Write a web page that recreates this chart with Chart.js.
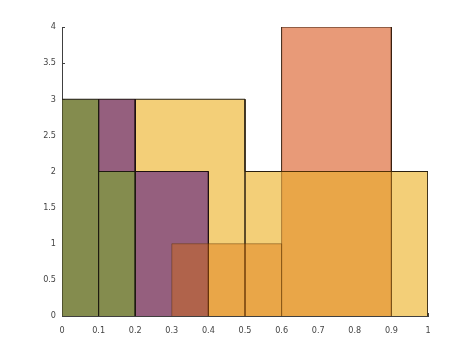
<!DOCTYPE html>
<html>
<head>
<meta charset="utf-8">
<script src="https://cdn.jsdelivr.net/npm/chart.js@4/dist/chart.umd.min.js"></script>
<style>
html,body{margin:0;padding:0;background:#fff;}
#wrap{width:474px;height:355px;}
</style>
</head>
<body>
<div id="wrap"><canvas id="c" width="474" height="355"></canvas></div>
<script>
// Bin edges and heights for each series
const greenEdges = [0, 0.1, 0.2];
const greenHeights = [3, 2];
const purpleEdges = [0.1, 0.2, 0.4];
const purpleHeights = [3, 2];
const orangeEdges = [0.3, 0.6, 0.9];
const orangeHeights = [1, 2];
const yellowEdges = [0.2, 0.5, 1.0];
const yellowHeights = [3, 2];
const salmonEdges = [0.6, 0.9];
const salmonHeights = [4];

const xTicks = [0, 0.1, 0.2, 0.3, 0.4, 0.5, 0.6, 0.7, 0.8, 0.9, 1];
const yTicks = [0, 0.5, 1, 1.5, 2, 2.5, 3, 3.5, 4];

function outline(edges, heights) {
  const pts = [];
  for (let i = 0; i < heights.length; i++) {
    pts.push({x: edges[i], y: 0});
    pts.push({x: edges[i], y: heights[i]});
    pts.push({x: edges[i + 1], y: heights[i]});
    pts.push({x: edges[i + 1], y: 0});
  }
  return pts;
}

function ds(edges, heights, fill, border, order) {
  return {
    data: outline(edges, heights),
    backgroundColor: fill,
    borderColor: border,
    borderWidth: 1,
    pointRadius: 0,
    tension: 0,
    fill: 'origin',
    order: order
  };
}

const inwardTicks = {
  id: 'inwardTicks',
  beforeDatasetsDraw(chart) {
    const ctx = chart.ctx;
    const xs = chart.scales.x, ys = chart.scales.y;
    const a = chart.chartArea;
    ctx.save();
    ctx.strokeStyle = '#404040';
    ctx.lineWidth = 1;
    ctx.beginPath();
    xTicks.forEach(v => {
      const px = Math.round(xs.getPixelForValue(v)) + 0.5;
      ctx.moveTo(px, a.bottom);
      ctx.lineTo(px, a.bottom - 3);
    });
    yTicks.forEach(v => {
      const py = Math.round(ys.getPixelForValue(v)) + 0.5;
      ctx.moveTo(a.left, py);
      ctx.lineTo(a.left + 3, py);
    });
    ctx.stroke();
    ctx.restore();
  }
};

const tickFont = {family: '"Liberation Sans Narrow","DejaVu Sans Condensed",sans-serif', size: 9};

new Chart(document.getElementById('c'), {
  type: 'line',
  data: {
    datasets: [
      ds(greenEdges, greenHeights, '#848C4E', '#1e1a10', 0),
      ds(orangeEdges, orangeHeights, 'rgba(218,104,0,0.4)', 'rgba(90,50,0,0.45)', 1),
      ds(purpleEdges, purpleHeights, '#955F7E', '#1e1010', 2),
      ds(yellowEdges, yellowHeights, '#F3CF78', '#2a2010', 3),
      ds(salmonEdges, salmonHeights, '#E89A78', '#3a2010', 4)
    ]
  },
  options: {
    responsive: false,
    animation: false,
    layout: {padding: {left: 0, top: 27, right: 46, bottom: 0}},
    plugins: {legend: {display: false}, tooltip: {enabled: false}},
    scales: {
      x: {
        type: 'linear', min: 0, max: 1,
        afterFit(s) { s.height = 39; },
        afterBuildTicks(s) { s.ticks = xTicks.map(v => ({value: v})); },
        grid: {display: true, drawOnChartArea: false, drawTicks: false},
        border: {display: true, color: '#404040', width: 1},
        ticks: {padding: 9, color: '#444', font: tickFont, maxRotation: 0, autoSkip: false,
                callback: v => String(v)}
      },
      y: {
        type: 'linear', min: 0, max: 4,
        afterFit(s) { s.width = 62; },
        afterBuildTicks(s) { s.ticks = yTicks.map(v => ({value: v})); },
        grid: {display: true, drawOnChartArea: false, drawTicks: false},
        border: {display: true, color: '#404040', width: 1},
        ticks: {padding: 6, color: '#444', font: tickFont, autoSkip: false,
                callback: v => String(v)}
      }
    }
  },
  plugins: [inwardTicks]
});
</script>
</body>
</html>
